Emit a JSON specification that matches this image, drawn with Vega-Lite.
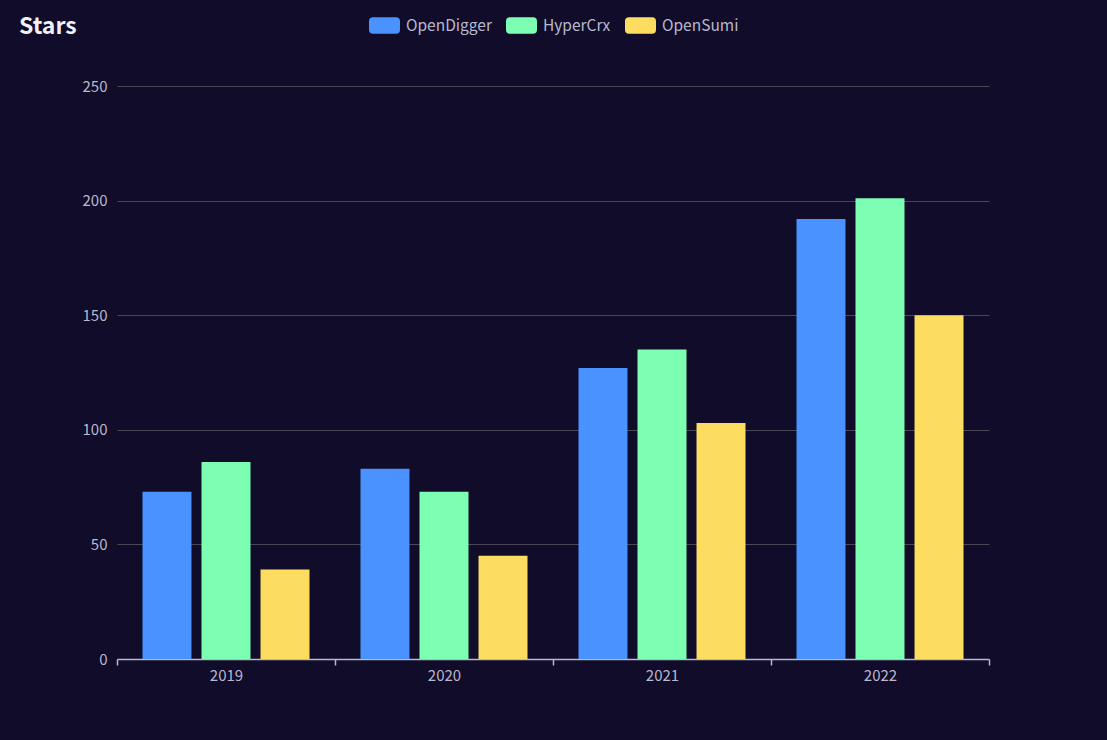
{
  "$schema": "https://vega.github.io/schema/vega-lite/v6.json",
  "autosize": "none",
  "width": 872,
  "height": 573,
  "padding": {"left": 117, "top": 86, "right": 118, "bottom": 81},
  "background": "#100c2a",
  "title": {
    "text": "Stars",
    "anchor": "start",
    "font": "Noto Sans CJK SC",
    "fontSize": 23,
    "fontWeight": "bold",
    "color": "#eef1fa",
    "baseline": "alphabetic",
    "offset": 0,
    "dx": -63,
    "dy": 47
  },
  "data": {
    "values": [
      {"year": "2019", "repo": "OpenDigger", "stars": 73},
      {"year": "2019", "repo": "HyperCrx", "stars": 86},
      {"year": "2019", "repo": "OpenSumi", "stars": 39},
      {"year": "2020", "repo": "OpenDigger", "stars": 83},
      {"year": "2020", "repo": "HyperCrx", "stars": 73},
      {"year": "2020", "repo": "OpenSumi", "stars": 45},
      {"year": "2021", "repo": "OpenDigger", "stars": 127},
      {"year": "2021", "repo": "HyperCrx", "stars": 135},
      {"year": "2021", "repo": "OpenSumi", "stars": 103},
      {"year": "2022", "repo": "OpenDigger", "stars": 192},
      {"year": "2022", "repo": "HyperCrx", "stars": 201},
      {"year": "2022", "repo": "OpenSumi", "stars": 150}
    ]
  },
  "mark": {"type": "bar"},
  "encoding": {
    "x": {
      "field": "year",
      "type": "nominal",
      "title": null,
      "scale": {"paddingInner": 0, "paddingOuter": 0},
      "axis": {
        "labelAngle": 0,
        "labelFont": "Noto Sans CJK SC",
        "labelFontSize": 15,
        "labelColor": "#b9b8ce",
        "labelPadding": 3,
        "domainColor": "#b9b8ce",
        "domainWidth": 1.5,
        "tickColor": "#b9b8ce",
        "tickSize": 6,
        "tickWidth": 1.5,
        "tickBand": "extent",
        "grid": false
      }
    },
    "xOffset": {
      "field": "repo",
      "type": "nominal",
      "sort": ["OpenDigger", "HyperCrx", "OpenSumi"],
      "scale": {"paddingInner": 0.17, "paddingOuter": 0.432}
    },
    "y": {
      "field": "stars",
      "type": "quantitative",
      "title": null,
      "scale": {"domain": [0, 250], "nice": false},
      "axis": {
        "values": [0, 50, 100, 150, 200, 250],
        "labelFont": "Noto Sans CJK SC",
        "labelFontSize": 15,
        "labelColor": "#b9b8ce",
        "labelPadding": 10,
        "domain": false,
        "ticks": false,
        "gridColor": "#484753",
        "gridWidth": 1
      }
    },
    "color": {
      "field": "repo",
      "type": "nominal",
      "sort": ["OpenDigger", "HyperCrx", "OpenSumi"],
      "scale": {
        "domain": ["OpenDigger", "HyperCrx", "OpenSumi"],
        "range": ["#4992ff", "#7cffb2", "#fddd60"]
      },
      "legend": {
        "title": null,
        "orient": "none",
        "direction": "horizontal",
        "legendX": 252,
        "legendY": -76,
        "symbolType": "M-0.74,-0.54H0.74Q1,-0.54 1,-0.28V0.28Q1,0.54 0.74,0.54H-0.74Q-1,0.54 -1,0.28V-0.28Q-1,-0.54 -0.74,-0.54Z",
        "symbolSize": 961,
        "symbolStrokeWidth": 0,
        "symbolOpacity": 1,
        "labelFont": "Noto Sans CJK SC",
        "labelFontSize": 15.5,
        "labelColor": "#b9b8ce",
        "labelOffset": 6,
        "columnPadding": 14,
        "encode": {
          "symbols": {"update": {"size": {"value": 961}}}
        }
      }
    }
  },
  "config": {
    "view": {"stroke": null}
  }
}
